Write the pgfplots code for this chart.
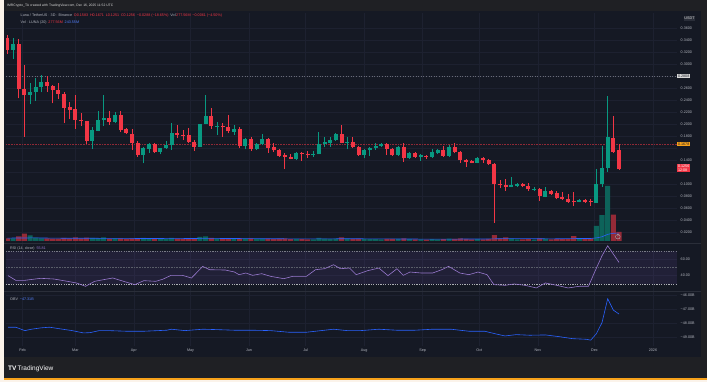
\documentclass[border=0pt]{standalone}
\usepackage{pgfplots}
\pgfplotsset{compat=1.18}
\usepackage{pgfplotstable}
\usepackage{fontspec}
\setmainfont{Liberation Sans}
\definecolor{cream}{HTML}{FBF3EA}
\definecolor{hdr}{HTML}{1F2024}
\definecolor{bgc}{HTML}{151924}
\definecolor{gridc}{HTML}{1D2130}
\definecolor{upc}{HTML}{089981}
\definecolor{dnc}{HTML}{F23645}
\definecolor{txt}{HTML}{B2B5BE}
\definecolor{blu}{HTML}{2962FF}
\definecolor{rsic}{HTML}{7E57C2}
\definecolor{orng}{HTML}{F7A21B}
\definecolor{sepc}{HTML}{2A2E39}
\definecolor{bandl}{HTML}{787B86}
\newcommand\tf{\fontsize{3.7bp}{4.4bp}\selectfont}

\pgfplotstableread{
i o h l c v
1 0.3250 0.3450 0.3100 0.3350 77
4 0.2495 0.2700 0.2339 0.2550 172
5 0.2550 0.2784 0.2400 0.2634 105
6 0.2634 0.2828 0.2539 0.2706 84
15 0.1734 0.1967 0.1600 0.1911 98
16 0.1900 0.2228 0.1890 0.2078 91
17 0.2078 0.2495 0.1984 0.2111 115
19 0.2045 0.2217 0.2022 0.2156 77
24 0.1500 0.1633 0.1356 0.1611 98
25 0.1600 0.1694 0.1534 0.1672 70
27 0.1545 0.1615 0.1506 0.1611 63
28 0.1611 0.1722 0.1600 0.1667 63
29 0.1661 0.2022 0.1578 0.1861 98
34 0.1633 0.2011 0.1633 0.2011 126
35 0.2011 0.2495 0.2005 0.2145 144
37 0.1967 0.2050 0.1828 0.1978 70
40 0.1884 0.1995 0.1828 0.1934 63
42 0.1650 0.1784 0.1589 0.1761 70
44 0.1595 0.1700 0.1578 0.1672 63
45 0.1672 0.1845 0.1661 0.1756 70
51 0.1428 0.1545 0.1411 0.1534 63
54 0.1489 0.1567 0.1467 0.1511 49
55 0.1511 0.1884 0.1505 0.1678 98
56 0.1678 0.1789 0.1622 0.1711 70
57 0.1700 0.1800 0.1634 0.1750 63
58 0.1745 0.1856 0.1734 0.1839 70
60 0.1700 0.1800 0.1589 0.1717 70
63 0.1495 0.1589 0.1439 0.1572 63
64 0.1572 0.1622 0.1484 0.1606 56
65 0.1606 0.1689 0.1578 0.1645 56
66 0.1645 0.1700 0.1634 0.1678 49
69 0.1495 0.1645 0.1478 0.1634 63
71 0.1439 0.1550 0.1428 0.1534 56
73 0.1467 0.1506 0.1400 0.1489 49
75 0.1467 0.1595 0.1450 0.1539 56
76 0.1528 0.1589 0.1511 0.1572 49
78 0.1478 0.1661 0.1467 0.1628 70
83 0.1367 0.1467 0.1356 0.1450 56
89 0.0967 0.1122 0.0955 0.0994 70
90 0.0983 0.1022 0.0967 0.1011 49
93 0.0917 0.0955 0.0894 0.0933 42
95 0.0800 0.0955 0.0789 0.0894 70
101 0.0717 0.0761 0.0705 0.0744 56
104 0.0700 0.1261 0.0700 0.1005 462
105 0.1005 0.1650 0.0967 0.1283 800
106 0.1283 0.2478 0.1217 0.1789 1700
}\up

\pgfplotstableread{
i o h l c v
0 0.3450 0.3500 0.3180 0.3250 84
2 0.3350 0.3420 0.2439 0.2589 140
3 0.2600 0.3000 0.1800 0.2495 225
7 0.2706 0.2817 0.2550 0.2639 77
8 0.2639 0.2661 0.2356 0.2578 70
9 0.2584 0.2689 0.2428 0.2517 70
10 0.2517 0.2539 0.2034 0.2284 98
11 0.2295 0.2372 0.2100 0.2250 77
12 0.2261 0.2495 0.1934 0.2084 115
13 0.2078 0.2200 0.1984 0.2056 77
14 0.2056 0.2060 0.1672 0.1734 105
18 0.2111 0.2222 0.2000 0.2045 70
20 0.2156 0.2222 0.1884 0.1911 84
21 0.1922 0.1939 0.1845 0.1856 63
22 0.1845 0.1928 0.1578 0.1689 84
23 0.1689 0.1728 0.1467 0.1494 91
26 0.1672 0.1689 0.1534 0.1539 70
30 0.1861 0.1995 0.1778 0.1834 70
31 0.1834 0.1911 0.1745 0.1822 63
32 0.1828 0.1939 0.1700 0.1717 70
33 0.1717 0.1745 0.1567 0.1633 70
36 0.2139 0.2272 0.1928 0.1972 98
38 0.1978 0.2022 0.1800 0.1961 63
39 0.1961 0.2161 0.1856 0.1889 70
41 0.1934 0.1967 0.1606 0.1645 84
43 0.1761 0.1800 0.1567 0.1595 77
46 0.1756 0.1772 0.1534 0.1617 70
47 0.1622 0.1689 0.1550 0.1572 56
48 0.1584 0.1595 0.1467 0.1484 70
49 0.1489 0.1522 0.1261 0.1467 84
50 0.1461 0.1506 0.1422 0.1434 56
52 0.1534 0.1550 0.1400 0.1517 56
53 0.1517 0.1567 0.1450 0.1495 49
59 0.1839 0.1995 0.1689 0.1700 115
61 0.1717 0.1789 0.1617 0.1634 63
62 0.1628 0.1645 0.1478 0.1495 70
67 0.1678 0.1700 0.1495 0.1595 63
68 0.1600 0.1617 0.1478 0.1495 63
70 0.1634 0.1700 0.1384 0.1439 77
72 0.1534 0.1550 0.1450 0.1467 49
74 0.1478 0.1495 0.1428 0.1461 42
77 0.1572 0.1645 0.1467 0.1478 56
79 0.1628 0.1689 0.1522 0.1545 63
80 0.1545 0.1561 0.1367 0.1406 77
81 0.1405 0.1422 0.1300 0.1372 63
82 0.1400 0.1411 0.1356 0.1367 49
84 0.1450 0.1467 0.1367 0.1411 49
85 0.1411 0.1433 0.1328 0.1344 63
86 0.1344 0.1356 0.0367 0.1005 180
87 0.1005 0.1078 0.0939 0.0989 84
88 0.0994 0.1089 0.0900 0.0967 115
91 0.1011 0.1022 0.0955 0.0983 49
92 0.0983 0.1022 0.0900 0.0922 56
94 0.0933 0.0939 0.0733 0.0811 77
96 0.0894 0.0911 0.0828 0.0844 49
97 0.0855 0.0900 0.0755 0.0772 63
98 0.0789 0.0883 0.0744 0.0761 56
99 0.0761 0.0844 0.0700 0.0717 63
100 0.0733 0.0883 0.0644 0.0717 150
102 0.0744 0.0761 0.0700 0.0711 56
103 0.0733 0.0755 0.0644 0.0705 77
107 0.1783 0.2150 0.1533 0.1544 810
108 0.1583 0.1671 0.1251 0.1256 277.56
}\dn

\pgfplotsset{tvaxis/.style={
  scale only axis, anchor=south west, width=671bp,
  xmin=-0.247, xmax=118.24,
  axis line style={draw=none}, major tick length=0pt, tick style={draw=none},
  xtick={2.667,12,22.333,32.333,42.667,52.667,63,73.333,83.333,93.667,103.667,114},
  xticklabels={}, xmajorgrids, ymajorgrids,
  grid style={gridc, line width=0.6bp},
  ticklabel style={font=\tf, text=txt},
  yticklabel pos=right,
  yticklabel style={anchor=west, inner sep=0pt, xshift=3.5bp},
  /pgf/number format/assume math mode=true,
  clip mode=individual}}

\begin{document}
\begin{tikzpicture}
\fill[cream] (0,0) rectangle (707bp,382bp);
\fill[hdr] (4bp,3.6bp) rectangle (707bp,382bp);
\fill[bgc] (4bp,25bp) rectangle (701bp,371bp);
\fill[orng] (4bp,2.2bp) rectangle (707bp,3.6bp);
% separators
\fill[sepc] (4bp,138.2bp) rectangle (701bp,139.3bp);
\fill[sepc] (4bp,90.3bp) rectangle (701bp,91.3bp);

% ---------- main pane grid & price labels
\begin{axis}[tvaxis, at={(6bp,139bp)}, height=230bp, ymin=0.0028, ymax=0.3861,
  ytick={0.02,0.04,0.06,0.08,0.10,0.12,0.14,0.16,0.18,0.20,0.22,0.24,0.26,0.28,0.30,0.32,0.34,0.36},
  yticklabels={0.0200,0.0400,0.0600,0.0800,0.1000,{},0.1400,{},0.1800,0.2000,0.2200,0.2400,0.2600,{},0.3000,0.3200,0.3400,0.3600}]
\addplot[draw=none, forget plot] coordinates {(0,0.2)};
\end{axis}

% ---------- volume
\begin{axis}[tvaxis, at={(6bp,141bp)}, height=228bp, ymin=0, ymax=7020,
  xmajorgrids=false, ymajorgrids=false, ytick=\empty]
\addplot[ybar, bar width=5.1bp, bar shift=0pt, fill=upc!58!bgc, draw=none] table[x=i, y=v] {\up};
\addplot[ybar, bar width=5.1bp, bar shift=0pt, fill=dnc!58!bgc, draw=none] table[x=i, y=v] {\dn};
\addplot[blu, line width=0.6bp, mark=none] coordinates {(0,90) (5,95) (10,85) (15,84) (20,80) (25,77) (30,74) (35,80) (40,77) (45,70) (50,67) (55,64) (60,70) (65,66) (70,62) (75,58) (80,60) (85,63) (88,75) (92,72) (96,66) (100,75) (103,78) (104,95) (105,130) (106,205) (107,238) (108,243.55)};
\end{axis}

% ---------- candles
\begin{axis}[tvaxis, at={(6bp,139bp)}, height=230bp, ymin=0.0028, ymax=0.3861,
  xmajorgrids=false, ymajorgrids=false, ytick=\empty]
\addplot[bandl!85!bgc, dotted, line width=0.6bp] coordinates {(-0.247,0.2808) (118.24,0.2808)};
\addplot[dnc!55!bgc, dash pattern=on 0.8bp off 0.8bp, line width=0.6bp] coordinates {(-0.247,0.1678) (118.24,0.1678)};
\addplot[draw=none, mark=none, error bars/.cd, y dir=plus, y explicit, error mark=none,
  error bar style={draw=upc, line width=0.8bp}]
  table[x=i, y=l, y error expr={\thisrow{h}-\thisrow{l}}] {\up};
\addplot[draw=none, mark=none, error bars/.cd, y dir=plus, y explicit, error mark=none,
  error bar style={draw=dnc, line width=0.8bp}]
  table[x=i, y=l, y error expr={\thisrow{h}-\thisrow{l}}] {\dn};
\addplot[draw=none, mark=none, error bars/.cd, y dir=plus, y explicit, error mark=none,
  error bar style={draw=upc, line width=4bp}]
  table[x=i, y expr={min(\thisrow{o},\thisrow{c})}, y error expr={max(abs(\thisrow{c}-\thisrow{o}),0.0012)}] {\up};
\addplot[draw=none, mark=none, error bars/.cd, y dir=plus, y explicit, error mark=none,
  error bar style={draw=dnc, line width=4bp}]
  table[x=i, y expr={min(\thisrow{o},\thisrow{c})}, y error expr={max(abs(\thisrow{c}-\thisrow{o}),0.0012)}] {\dn};
\node[circle, draw=txt, line width=0.4bp, minimum size=4.6bp, inner sep=0pt, font=\fontsize{3bp}{3bp}\selectfont, text=txt] at (axis cs:107.8,0.0133) {?};
\node[anchor=west, fill=white!85!black, text=bgc, inner sep=0.8bp, font=\tf] at (axis cs:118.24,0.2808) {0.2808};
\node[anchor=west, fill=orng, text=bgc, inner sep=0.8bp, font=\tf] at (axis cs:118.24,0.1678) {0.1678};
\node[anchor=north west, fill=dnc, text=white, inner sep=0.8bp, font=\tf, align=left] at (axis cs:118.24,0.1340) {0.1256\\[-0.6bp]12:08};
\end{axis}

% ---------- RSI
\begin{axis}[tvaxis, at={(6bp,91.3bp)}, height=46.9bp, ymin=21.9, ymax=78.4,
  ytick={40,60}, yticklabels={40.00,60.00}]
\fill[rsic, opacity=0.12] (axis cs:-0.247,30) rectangle (axis cs:118.24,70);
\addplot[bandl, dash pattern=on 1.2bp off 1.2bp, line width=0.5bp] coordinates {(-0.247,70) (118.24,70)};
\addplot[bandl!70!bgc, dash pattern=on 0.6bp off 1bp, line width=0.5bp] coordinates {(-0.247,50) (118.24,50)};
\addplot[bandl!60!white, dash pattern=on 1.2bp off 1.2bp, line width=0.5bp] coordinates {(-0.247,30) (118.24,30)};
\addplot[rsic!80!white, line width=0.6bp, mark=none] coordinates {(0.12,40) (1.48,34.4) (3.07,34.4) (5.86,36.8) (8.2,36) (10.6,33.2) (12.2,31.2) (13.8,27.2) (15.4,33.2) (17,35.2) (18.6,37.2) (20.9,32.4) (22.5,29.2) (24.1,34) (26.2,33.2) (27.4,35.6) (28.9,40.4) (30.9,40.4) (32.5,37.2) (34.5,51.2) (35.7,47.2) (38.5,46.8) (40.1,44.4) (40.9,41.2) (42.1,43.2) (43.3,40.4) (44.9,42.4) (46.5,39.2) (48.8,36.4) (50.4,39.2) (52.8,39.2) (54.4,47.2) (56,48.4) (57.6,53.2) (58.8,48.4) (60.4,49.2) (61.6,41.2) (63.6,46) (65.6,49.2) (67.2,40) (68.8,48.4) (69.9,40.4) (71.1,44.4) (73.1,43.2) (75.1,43.2) (76.7,47.2) (77.9,51.2) (79.9,43.2) (81.5,41.2) (83.1,44.4) (84.7,41.2) (85.9,29.2) (87.9,28.4) (89.5,30) (91.4,28.4) (93.4,25.2) (95,31.2) (97,28.4) (99,25.2) (101,27.2) (102.6,27.2) (104,49) (105,64) (106,76) (107,66) (108,56)};
\end{axis}

% ---------- OBV
\begin{axis}[tvaxis, at={(6bp,36bp)}, height=54.3bp, ymin=-49.597, ymax=-45.712,
  ytick={-49,-48,-47,-46}, yticklabels={−49.00B,−48.00B,−47.00B,−46.00B},
  xticklabels={Feb,Mar,Apr,May,Jun,Jul,Aug,Sep,Oct,Nov,Dec,2026},
  xticklabel style={anchor=north, inner sep=0pt, yshift=-3bp}]
\addplot[blu, line width=0.6bp, mark=none] coordinates {(0.12,-48.252) (1.48,-48.252) (3.07,-48.496) (4.27,-48.396) (5.86,-48.302) (7.45,-48.252) (9.04,-48.353) (11.43,-48.496) (13.42,-48.662) (14.62,-48.640) (16.21,-48.496) (17.8,-48.496) (20.98,-48.540) (24.17,-48.540) (28.15,-48.468) (28.94,-48.396) (31.34,-48.496) (34.52,-48.396) (36.91,-48.424) (40.08,-48.468) (43.28,-48.468) (46.46,-48.496) (49.66,-48.612) (52.83,-48.612) (54.42,-48.540) (57.6,-48.396) (60,-48.496) (62.39,-48.496) (65.57,-48.396) (68.76,-48.468) (71.94,-48.468) (75.12,-48.396) (78.32,-48.396) (81.49,-48.540) (84.28,-48.540) (86.26,-48.734) (87.87,-48.878) (89.85,-48.784) (92.25,-48.827) (95.02,-48.806) (97.41,-48.928) (99.8,-49.072) (102.19,-49.115) (103,-49.18) (104,-48.72) (105,-47.92) (106,-46.22) (107,-47.03) (108,-47.31)};
\end{axis}

% ---------- texts
\node[anchor=west, inner sep=0pt, font=\fontsize{3.35bp}{4bp}\selectfont, text=white!85!black] at (7bp,376.5bp) {IMRCrypto\_TA created with TradingView.com, Dec 16, 2025 11:52 UTC};
\node[anchor=west, inner sep=0pt, font=\tf, text=txt] at (20.5bp,366bp) {Luna / TetherUS · 3D · Binance\enspace{\color{dnc}O0.1583\enspace H0.1671\enspace L0.1251\enspace C0.1256\enspace −0.0288 (−18.65\%)}\enspace Vol\,{\color{dnc}277.56M\enspace −0.0061 (−4.50\%)}};
\node[anchor=west, inner sep=0pt, font=\tf, text=txt] at (20.5bp,359.3bp) {Vol · LUNA (20)\enspace{\color{dnc}277.56M}\enspace{\color{blu!80!white}243.55M}};
\node[anchor=west, inner sep=0pt, font=\tf, text=txt] at (10bp,133.5bp) {RSI (14, close)\enspace{\color{rsic!80!white}55.81}};
\node[anchor=west, inner sep=0pt, font=\tf, text=txt] at (10bp,82.7bp) {OBV\enspace{\color{blu!80!white}−47.31B}};
\node[fill=sepc, text=white!85!black, inner sep=0.9bp, font=\tf] at (689.5bp,363.5bp) {USDT};
\node[anchor=west, inner sep=0pt, text=white, font=\fontsize{6.5bp}{7bp}\selectfont] at (8bp,13.5bp) {\textbf{TV}\,TradingView};
\end{tikzpicture}
\end{document}
